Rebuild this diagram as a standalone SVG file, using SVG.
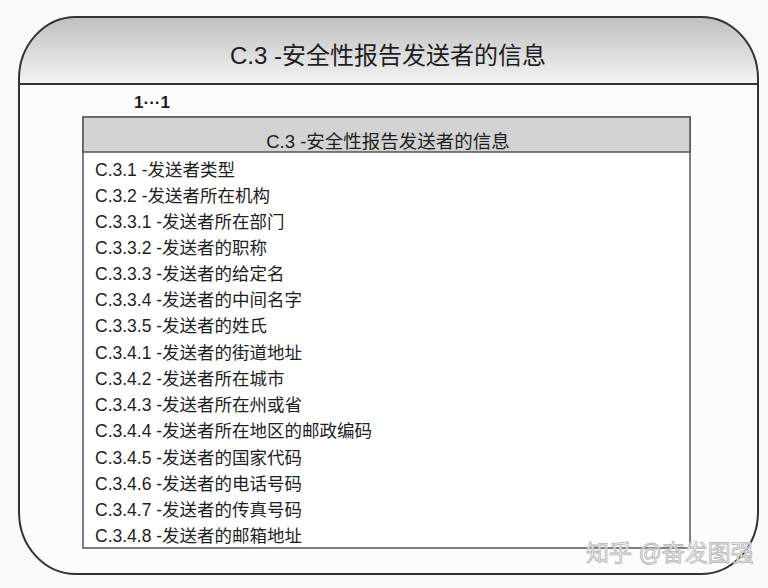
<svg xmlns="http://www.w3.org/2000/svg" width="768" height="588" viewBox="0 0 768 588">
<defs>
<linearGradient id="hdr" x1="0" y1="0" x2="0" y2="1">
<stop offset="0" stop-color="#bfbfbf"/>
<stop offset="1" stop-color="#f4f4f4"/>
</linearGradient>
<clipPath id="outerClip"><rect x="19" y="17" width="739" height="557" rx="57" ry="62"/></clipPath>
</defs>
<style>
text{font-family:"Liberation Sans","Noto Sans CJK SC",sans-serif;fill:#1e1e1e}
.item{font-size:17.5px}
.wm{font-size:23px;fill:#f0f0f0;stroke:#b8b8b8;stroke-width:0.8px}
</style>
<rect width="768" height="588" fill="#f9f9f9"/>
<g id="outer">
<rect x="19" y="17" width="739" height="557" rx="57" ry="62" fill="#fcfcfc"/>
<rect x="19" y="17" width="739" height="67" fill="url(#hdr)" clip-path="url(#outerClip)"/>
<line x1="19" y1="84" x2="758" y2="84" stroke="#333" stroke-width="2"/>
<rect x="19" y="17" width="739" height="557" rx="57" ry="62" fill="none" stroke="#333" stroke-width="2"/>
<text x="388" y="64" font-size="24" text-anchor="middle">C.3 -安全性报告发送者的信息</text>
</g>
<g id="connectors">
<text x="152" y="108" font-size="17" font-weight="bold" text-anchor="middle">1···1</text>
</g>
<g id="inner">
<rect x="83" y="117" width="607" height="431" fill="#ffffff" stroke="#555" stroke-width="1.5"/>
<rect x="83" y="117" width="607" height="35" fill="#d3d3d3" stroke="#555" stroke-width="1.5"/>
<text x="388" y="148" font-size="18.5" text-anchor="middle">C.3 -安全性报告发送者的信息</text>
<text class="item" x="95" y="176">C.3.1 -发送者类型</text>
<text class="item" x="95" y="202">C.3.2 -发送者所在机构</text>
<text class="item" x="95" y="228">C.3.3.1 -发送者所在部门</text>
<text class="item" x="95" y="254">C.3.3.2 -发送者的职称</text>
<text class="item" x="95" y="280">C.3.3.3 -发送者的给定名</text>
<text class="item" x="95" y="306">C.3.3.4 -发送者的中间名字</text>
<text class="item" x="95" y="332">C.3.3.5 -发送者的姓氏</text>
<text class="item" x="95" y="359">C.3.4.1 -发送者的街道地址</text>
<text class="item" x="95" y="385">C.3.4.2 -发送者所在城市</text>
<text class="item" x="95" y="411">C.3.4.3 -发送者所在州或省</text>
<text class="item" x="95" y="437">C.3.4.4 -发送者所在地区的邮政编码</text>
<text class="item" x="95" y="464">C.3.4.5 -发送者的国家代码</text>
<text class="item" x="95" y="490">C.3.4.6 -发送者的电话号码</text>
<text class="item" x="95" y="516">C.3.4.7 -发送者的传真号码</text>
<text class="item" x="95" y="542">C.3.4.8 -发送者的邮箱地址</text>
</g>
<text class="wm" x="586" y="561">知乎 @奋发图强</text>
</svg>
